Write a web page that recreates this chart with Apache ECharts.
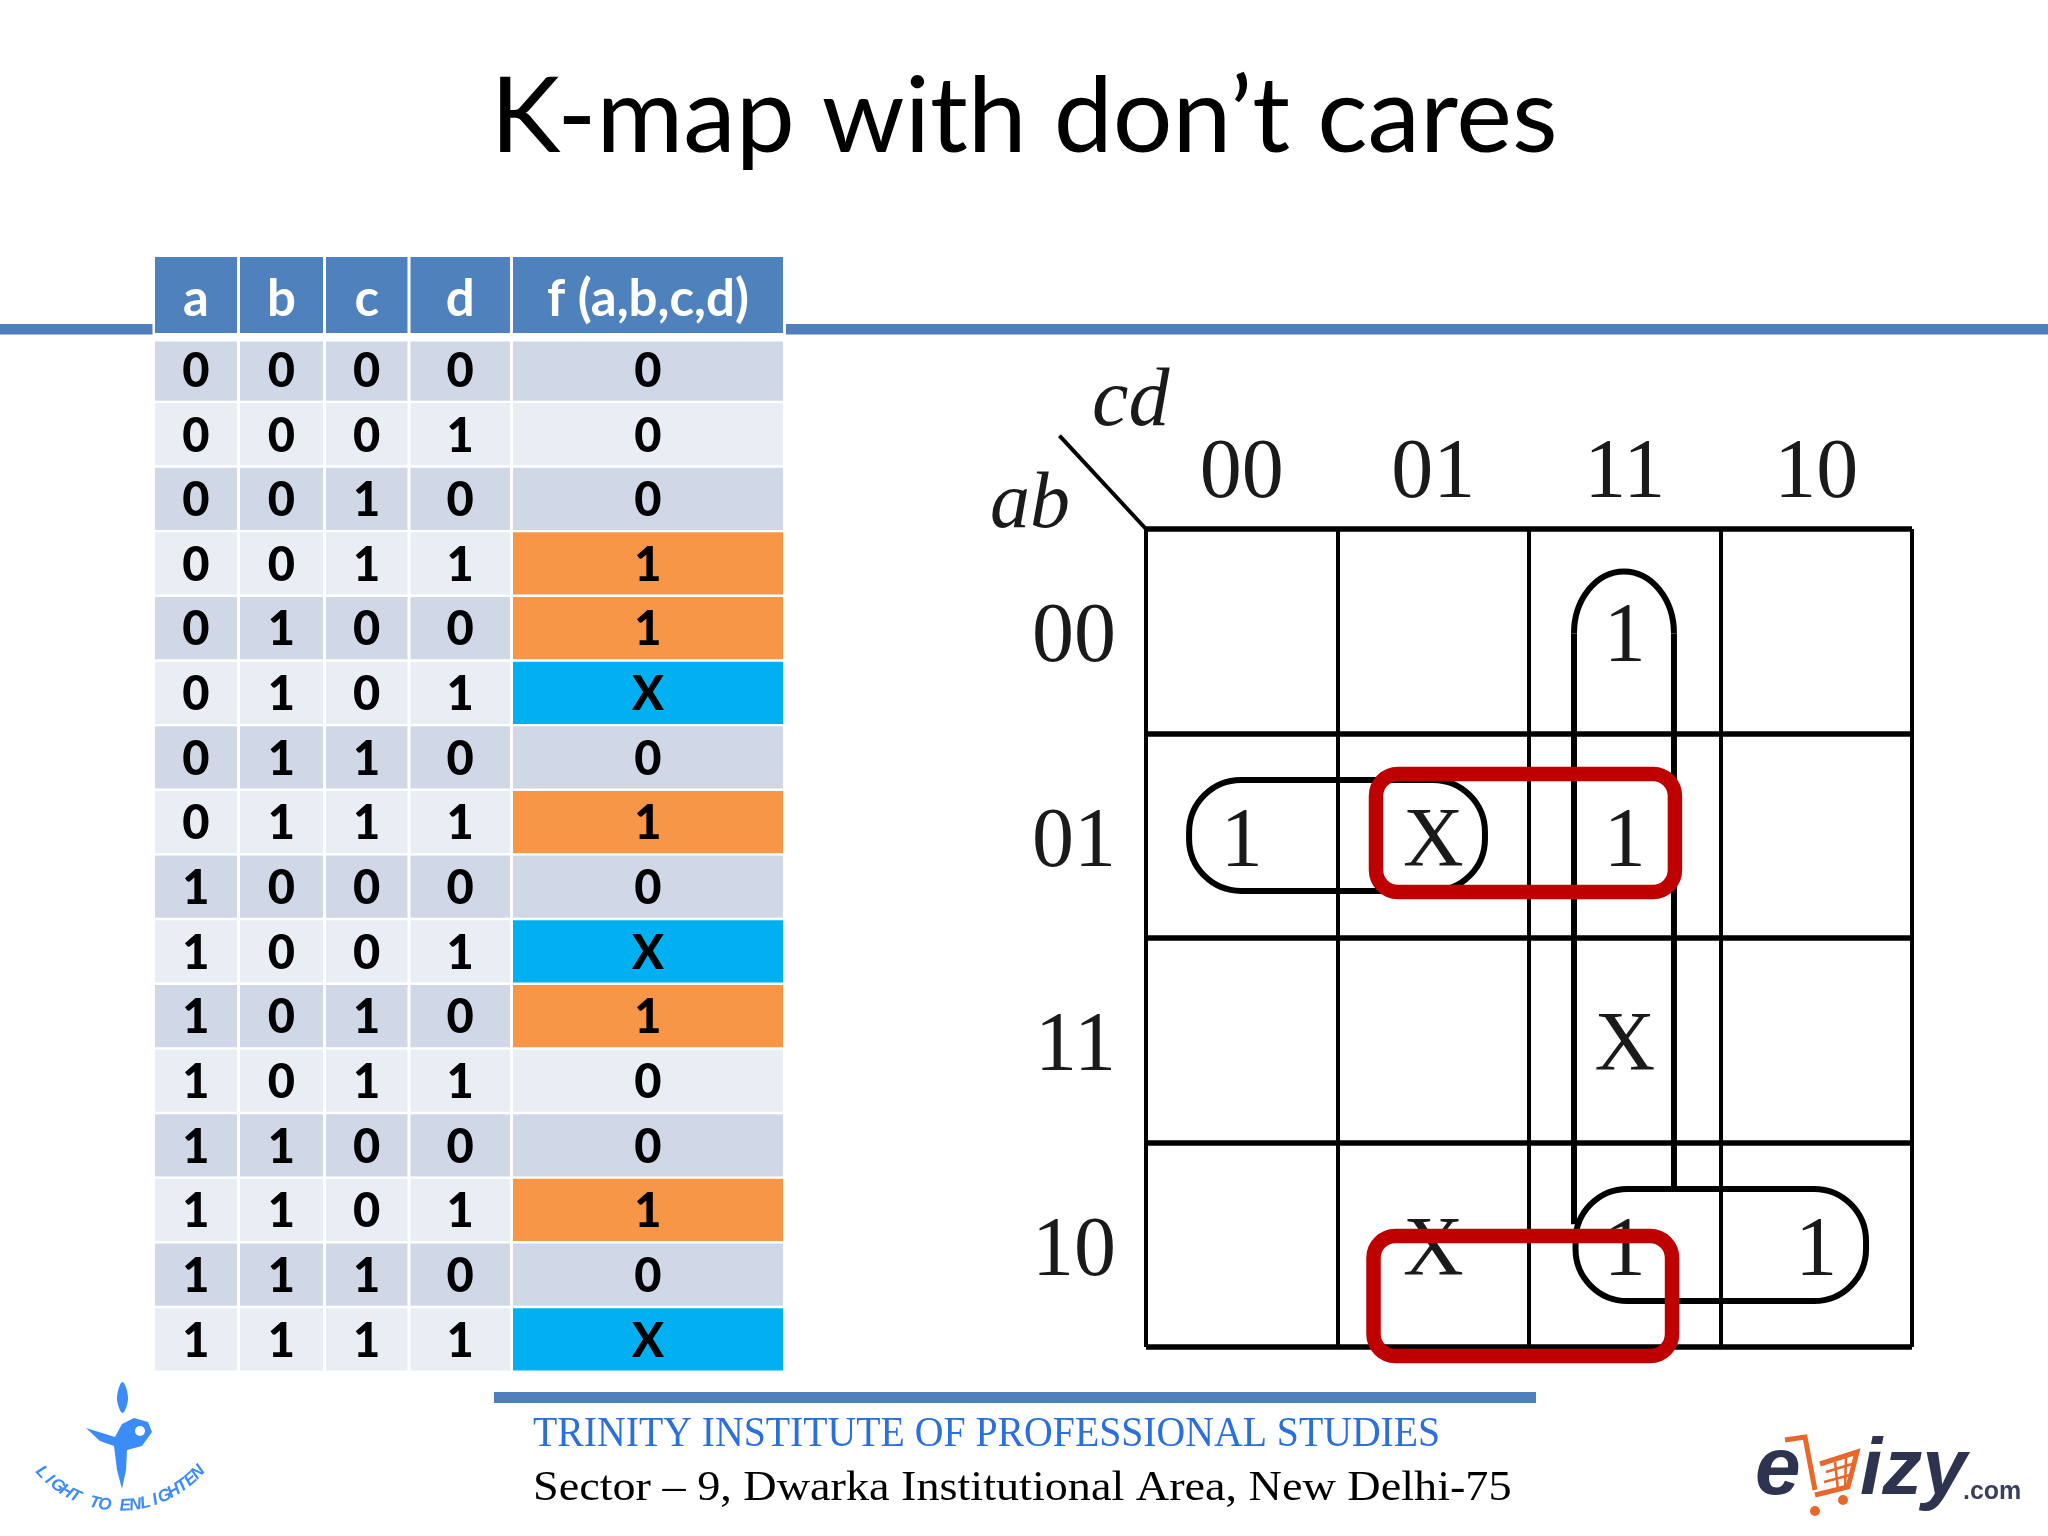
<![CDATA[<!DOCTYPE html>
<html>
<head>
<meta charset="utf-8">
<title>K-map with don't cares</title>
<style>
    html, body { margin: 0; padding: 0; background: #fff; }
    #main { width: 2048px; height: 1536px; }
</style>
<script src="https://cdn.jsdelivr.net/npm/echarts@6/dist/echarts.min.js"></script>
</head>
<body>
<div id="main"></div>
<script>
// truth table
var tableHeader = ['a', 'b', 'c', 'd', 'f (a,b,c,d)'];
var colA = ['0', '0', '0', '0', '0', '0', '0', '0', '1', '1', '1', '1', '1', '1', '1', '1'];
var colB = ['0', '0', '0', '0', '1', '1', '1', '1', '0', '0', '0', '0', '1', '1', '1', '1'];
var colC = ['0', '0', '1', '1', '0', '0', '1', '1', '0', '0', '1', '1', '0', '0', '1', '1'];
var colD = ['0', '1', '0', '1', '0', '1', '0', '1', '0', '1', '0', '1', '0', '1', '0', '1'];
var colF = ['0', '0', '0', '1', '1', 'X', '0', '1', '0', 'X', '1', '0', '0', '1', '0', 'X'];

// k-map
var cdLabels = ['00', '01', '11', '10'];
var abLabels = ['00', '01', '11', '10'];
var mapCells = [
    ['11', '00', '1'],
    ['00', '01', '1'],
    ['01', '01', 'X'],
    ['11', '01', '1'],
    ['11', '11', 'X'],
    ['01', '10', 'X'],
    ['11', '10', '1'],
    ['10', '10', '1']
];
// groups in cell units: [left, top, right, bottom]
var blackPills = [
    [0.225, 1.227, 1.770, 1.770],
    [2.243, 3.227, 3.760, 3.775]
];
var blackOpenLoop = [2.235, 0.208, 2.757, 3.40, 3.233];
var redBoxes = [
    [1.201, 1.198, 2.762, 1.775],
    [1.188, 3.457, 2.747, 4.044]
];
var cornerLine = [[-0.452, -0.457], [0, 0]];

var colEdges = [0, 85, 171, 255.5, 358, 628];
var tableColumns = [colA, colB, colC, colD, colF];
var rowIds = colA.map(function (v, i) { return 'r' + i; });

var bodyCells = [];
rowIds.forEach(function (id, r) {
    tableColumns.forEach(function (col, c) {
        bodyCells.push({ value: [c, r], text: col[r] });
    });
});
var headCells = tableHeader.map(function (t, c) {
    return { value: [c, 0], text: t };
});

function cellColor(c, r, text) {
    if (c === 4 && text === '1') return '#F79646';
    if (c === 4 && text === 'X') return '#00B0F0';
    return r % 2 === 0 ? '#D0D8E8' : '#E9EDF4';
}

function renderCell(cells, isHead) {
    return function (params, api) {
        var cell = cells[params.dataIndex];
        var c = api.value(0), r = api.value(1);
        var band = api.size([0, 1])[1];
        var mid = api.coord([0, r])[1];
        var x0 = api.coord([colEdges[c], r])[0];
        var x1 = api.coord([colEdges[c + 1], r])[0] - (c < 4 ? 3 : 0);
        var y0 = mid - band / 2;
        var y1 = mid + band / 2 - (isHead ? 0 : 2.4);
        if (!isHead && r === 0) y0 += 3.2;
        return {
            type: 'group',
            children: [{
                type: 'rect',
                shape: { x: x0, y: y0, width: x1 - x0, height: y1 - y0 },
                style: { fill: isHead ? '#4F81BD' : cellColor(c, r, cell.text) }
            }, {
                type: 'text',
                style: {
                    x: (x0 + x1) / 2,
                    y: isHead ? mid + 5 : mid + 1,
                    text: cell.text,
                    fill: isHead ? '#fff' : '#000',
                    font: isHead ? 'bold 51px Lato' : '900 47px Lato',
                    textAlign: 'center',
                    textVerticalAlign: 'middle'
                }
            }]
        };
    };
}

function roundRect(api, box, radius, color, width) {
    var a = api.coord([box[0], box[1]]);
    var b = api.coord([box[2], box[3]]);
    return {
        type: 'rect',
        shape: { x: a[0], y: a[1], width: b[0] - a[0], height: b[1] - a[1], r: radius },
        style: { fill: null, stroke: color, lineWidth: width }
    };
}

function renderBlack(params, api) {
    var i = params.dataIndex;
    var black = { stroke: '#000', lineWidth: 6, fill: null };
    if (i < blackPills.length) {
        return roundRect(api, blackPills[i], 52, '#000', 6);
    }
    if (i === blackPills.length) {
        var p = blackOpenLoop;
        var tl = api.coord([p[0], p[1]]);
        var br = api.coord([p[2], p[3]]);
        var rEnd = api.coord([p[2], p[4]]);
        var rx = (br[0] - tl[0]) / 2;
        var ry = 62;
        var k = 0.5523;
        var topX = tl[0] + rx;
        var sideY = tl[1] + ry;
        return {
            type: 'group',
            children: [
                { type: 'line', shape: { x1: tl[0], y1: br[1], x2: tl[0], y2: sideY }, style: black },
                { type: 'bezierCurve', shape: { x1: tl[0], y1: sideY, cpx1: tl[0], cpy1: sideY - ry * k, cpx2: topX - rx * k, cpy2: tl[1], x2: topX, y2: tl[1] }, style: black },
                { type: 'bezierCurve', shape: { x1: topX, y1: tl[1], cpx1: topX + rx * k, cpy1: tl[1], cpx2: br[0], cpy2: sideY - ry * k, x2: br[0], y2: sideY }, style: black },
                { type: 'line', shape: { x1: br[0], y1: sideY, x2: br[0], y2: rEnd[1] }, style: black }
            ]
        };
    }
    var s = api.coord(cornerLine[0]);
    var e = api.coord(cornerLine[1]);
    return {
        type: 'line',
        shape: { x1: s[0], y1: s[1], x2: e[0], y2: e[1] },
        style: { stroke: '#000', lineWidth: 4 }
    };
}

function renderRed(params, api) {
    return roundRect(api, redBoxes[params.dataIndex], 22, '#BE0000', 14.5);
}

// footer logos
var logoColor = '#3B8CF6';
var mottoLetters = 'LIGHT TO ENLIGHTEN'.split('');
var mottoGraphics = mottoLetters.map(function (ch, i) {
    var ang = (i - (mottoLetters.length - 1) / 2) * 5.5 * Math.PI / 180;
    return {
        type: 'text',
        x: 120 + Math.sin(ang) * 107,
        y: 1399 + Math.cos(ang) * 107,
        rotation: ang,
        style: {
            text: ch,
            fill: logoColor,
            font: 'italic bold 17px "Liberation Sans"',
            textAlign: 'center',
            textVerticalAlign: 'middle'
        }
    };
});

var cartLine = { fill: null, stroke: '#E8672A', lineWidth: 5 };
var thinCart = { fill: null, stroke: '#E8672A', lineWidth: 2.5 };

var graphics = [
    { type: 'rect', shape: { x: 0, y: 324, width: 152.5, height: 10.5 }, style: { fill: '#5080BC' }, z: 0 },
    { type: 'rect', shape: { x: 786, y: 324, width: 1262, height: 10.5 }, style: { fill: '#5080BC' }, z: 0 },
    { type: 'rect', shape: { x: 494, y: 1392, width: 1042, height: 11 }, style: { fill: '#5080BC' } },
    { type: 'text', x: 1092, y: 444, style: { text: 'cd', fill: '#1a1a1a', font: 'italic 82px "Liberation Serif"', textAlign: 'left', textVerticalAlign: 'bottom' } },
    { type: 'text', x: 990, y: 546, style: { text: 'ab', fill: '#1a1a1a', font: 'italic 80px "Liberation Serif"', textAlign: 'left', textVerticalAlign: 'bottom' } },
    { type: 'text', x: 533, y: 1435, scaleX: 0.924, style: { text: 'TRINITY INSTITUTE OF PROFESSIONAL STUDIES', fill: '#2A6FDB', font: '43px "Liberation Serif"', textAlign: 'left', textVerticalAlign: 'middle' } },
    { type: 'text', x: 533, y: 1489, scaleX: 1.074, style: { text: 'Sector \u2013 9, Dwarka Institutional Area, New Delhi-75', fill: '#000', font: '43px "Liberation Serif"', textAlign: 'left', textVerticalAlign: 'middle' } },
    // left logo
    { type: 'polygon', shape: { points: [[122.5, 1382], [128, 1398], [122.5, 1413], [117, 1398]], smooth: 0.4 }, style: { fill: logoColor } },
    { type: 'polygon', shape: { points: [[86, 1428], [115, 1437], [122, 1424], [134, 1418], [148, 1422], [152, 1432], [142, 1446], [127, 1450], [126, 1470], [122, 1489], [117, 1470], [114, 1446], [100, 1441]] }, style: { fill: logoColor } },
    { type: 'circle', shape: { cx: 140, cy: 1431, r: 5 }, style: { fill: '#fff' } },
    // right logo
    { type: 'text', x: 1755, y: 1512, style: { text: 'e', fill: '#2E3350', font: 'italic bold 82px "Liberation Sans"', textAlign: 'left', textVerticalAlign: 'bottom' } },
    { type: 'text', x: 1860, y: 1512, style: { text: 'izy', fill: '#2E3350', font: 'italic bold 80px "Liberation Sans"', textAlign: 'left', textVerticalAlign: 'bottom' } },
    { type: 'text', x: 1963, y: 1505, style: { text: '.com', fill: '#3A3F5C', font: 'bold 25px "Liberation Sans"', textAlign: 'left', textVerticalAlign: 'bottom' } },
    { type: 'polyline', shape: { points: [[1785, 1440], [1805, 1437], [1815, 1490]] }, style: cartLine },
    { type: 'polyline', shape: { points: [[1820, 1464], [1857, 1452], [1848, 1487], [1815, 1495]] }, style: cartLine },
    { type: 'line', shape: { x1: 1826, y1: 1472, x2: 1852, y2: 1464 }, style: thinCart },
    { type: 'line', shape: { x1: 1824, y1: 1482, x2: 1850, y2: 1475 }, style: thinCart },
    { type: 'line', shape: { x1: 1835, y1: 1462, x2: 1838, y2: 1490 }, style: thinCart },
    { type: 'line', shape: { x1: 1846, y1: 1458, x2: 1845, y2: 1487 }, style: thinCart },
    { type: 'circle', shape: { cx: 1815, cy: 1511, r: 5 }, style: { fill: '#E8672A' } },
    { type: 'circle', shape: { cx: 1843, cy: 1500, r: 5 }, style: { fill: '#E8672A' } }
].concat(mottoGraphics);

var myChart = echarts.init(document.getElementById('main'));

var option = {
    backgroundColor: '#fff',
    animation: false,
    title: {
        text: 'K-map with don\u2019t cares',
        left: 1019,
        top: 60,
        textAlign: 'center',
        textStyle: { fontFamily: 'Lato', fontWeight: 'normal', fontSize: 105.5, color: '#000' }
    },
    graphic: graphics,
    grid: [
        { left: 155, top: 257, width: 628, height: 76 },
        { left: 155, top: 338.4, width: 628, height: 1034.4 },
        { left: 1146, top: 529, width: 766, height: 818 }
    ],
    xAxis: [
        { gridIndex: 0, type: 'value', min: 0, max: 628, show: false },
        { gridIndex: 1, type: 'value', min: 0, max: 628, show: false },
        {
            gridIndex: 2, type: 'category', position: 'top', data: cdLabels,
            axisLine: { show: false }, axisTick: { show: false },
            axisLabel: { margin: 12, fontFamily: 'Liberation Serif', fontSize: 84, color: '#1a1a1a' },
            splitLine: { show: true, interval: 0, showMinLine: true, showMaxLine: true, lineStyle: { color: '#000', width: 4 } }
        },
        { gridIndex: 2, type: 'value', min: 0, max: 4, show: false }
    ],
    yAxis: [
        { gridIndex: 0, type: 'category', data: ['head'], show: false },
        { gridIndex: 1, type: 'category', data: rowIds, inverse: true, show: false },
        {
            gridIndex: 2, type: 'category', data: abLabels, inverse: true,
            axisLine: { show: false }, axisTick: { show: false },
            axisLabel: { margin: 30, verticalAlign: 'top', lineHeight: 16, fontFamily: 'Liberation Serif', fontSize: 84, color: '#1a1a1a' },
            splitLine: { show: true, interval: 0, showMinLine: true, showMaxLine: true, lineStyle: { color: '#000', width: 5.5 } }
        },
        { gridIndex: 2, type: 'value', min: 0, max: 4, inverse: true, show: false }
    ],
    series: [
        { type: 'custom', xAxisIndex: 0, yAxisIndex: 0, data: headCells, renderItem: renderCell(headCells, true), z: 2 },
        { type: 'custom', xAxisIndex: 1, yAxisIndex: 1, data: bodyCells, renderItem: renderCell(bodyCells, false), z: 2 },
        { type: 'custom', xAxisIndex: 3, yAxisIndex: 3, data: [0, 1, 2, 3], renderItem: renderBlack, z: 2 },
        {
            type: 'scatter', xAxisIndex: 2, yAxisIndex: 2, symbolSize: 0, data: mapCells, z: 3,
            itemStyle: { opacity: 1 },
            label: {
                show: true, position: 'inside', offset: [0, 8],
                formatter: function (p) { return p.value[2]; },
                fontFamily: 'Liberation Serif', fontSize: 84, color: '#1a1a1a'
            }
        },
        { type: 'custom', xAxisIndex: 3, yAxisIndex: 3, data: [0, 1], renderItem: renderRed, z: 4 }
    ]
};

myChart.setOption(option);
</script>
</body>
</html>
]]>
